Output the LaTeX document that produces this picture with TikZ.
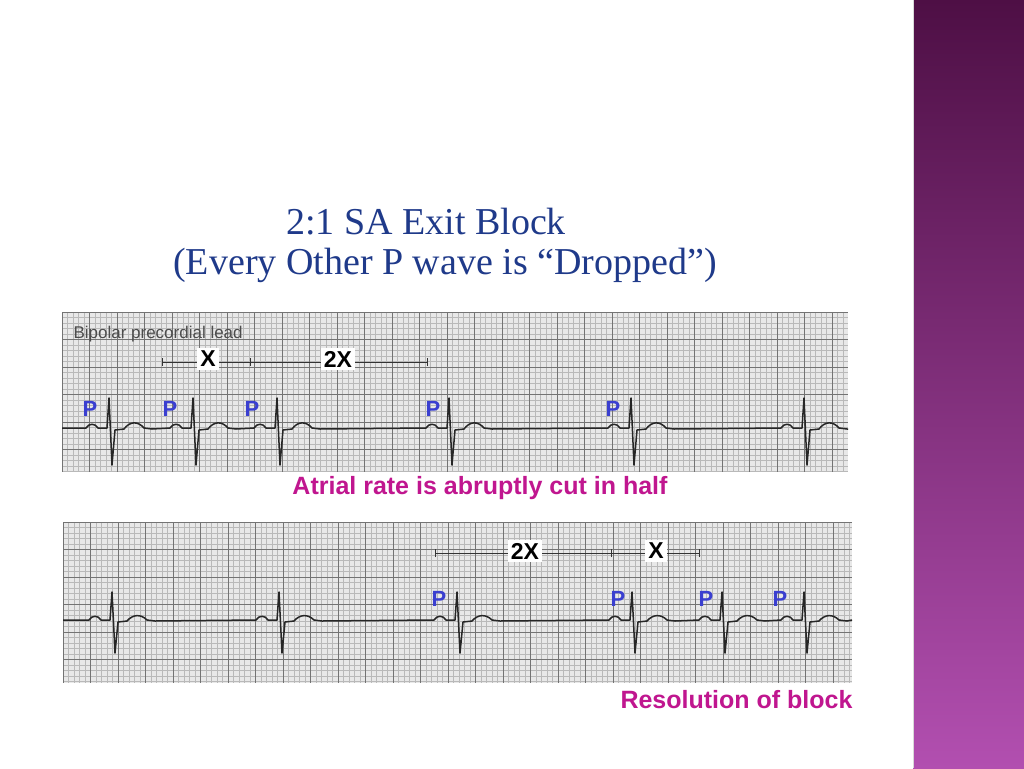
\documentclass[tikz,border=0pt]{standalone}
\usepackage{fontspec}
\setmainfont{Liberation Serif}
\setsansfont{Liberation Sans}
\definecolor{ttl}{HTML}{1F3A8A}
\definecolor{mag}{HTML}{C0168F}
\definecolor{pblue}{HTML}{3A3FD0}
\definecolor{barTop}{HTML}{4E0F45}
\definecolor{barBot}{HTML}{B24FB0}
\definecolor{paper}{HTML}{E8E8E8}
\tikzset{
  minor/.style={draw=gray!55,line width=0.5pt},
  major/.style={draw=black!55,line width=0.9pt},
  trace/.style={draw=black!85,line width=1.5pt,line join=round},
  lab/.style={font=\sffamily\bfseries\fontsize{23}{23}\selectfont,fill=white,inner sep=3pt},
  plab/.style={font=\sffamily\bfseries\fontsize{22}{22}\selectfont,text=pblue},
  brk/.style={draw=black!80,line width=1pt},
  note/.style={font=\sffamily\bfseries\fontsize{25}{25}\selectfont,text=mag}
}
\begin{document}
\begin{tikzpicture}[x=1pt,y=-1pt]
\useasboundingbox (0,0) rectangle (1024,768);
\fill[white] (0,0) rectangle (1024,768);
\shade[top color=barTop,bottom color=barBot] (913,0) rectangle (1024,768);
\draw[gray!30] (913,0) -- (913,768);
% titles
\node[font=\fontsize{38}{38}\selectfont,text=ttl] (t1) at (426,222) {2:1 SA Exit Block};
\node[font=\fontsize{38}{38}\selectfont,text=ttl] (t2) at (445,265) {(Every Other P wave is “Dropped”)};
% strip 1 grid
\fill[paper] (62,312) rectangle (848,472);
\foreach \i in {0,...,142} \draw[minor] (62+\i*5.5,312) -- (62+\i*5.5,472);
\foreach \j in {0,...,29} \draw[minor] (62,312+\j*5.5) -- (848,312+\j*5.5);
\foreach \i in {0,...,28} \draw[major] (62+\i*27.5,312) -- (62+\i*27.5,472);
\foreach \j in {0,...,5} \draw[major] (62,312+\j*27.5) -- (848,312+\j*27.5);
% strip 2 grid
\fill[paper] (63,522) rectangle (852,683);
\foreach \i in {0,...,143} \draw[minor] (63+\i*5.5,522) -- (63+\i*5.5,683);
\foreach \j in {0,...,29} \draw[minor] (63,522+\j*5.5) -- (852,522+\j*5.5);
\foreach \i in {0,...,28} \draw[major] (63+\i*27.5,522) -- (63+\i*27.5,683);
\foreach \j in {0,...,5} \draw[major] (63,522+\j*27.5) -- (852,522+\j*27.5);
% traces
\draw[trace] (62,428) foreach \r in {110,194,278,450,632,805} {
  -- (\r-24,428) .. controls (\r-21,423) and (\r-15,423) .. (\r-12,428) -- (\r-3,428)
  -- (\r-1,398) -- (\r+2,465) -- (\r+5,430) -- (\r+14,429)
  .. controls (\r+20,421) and (\r+28,421) .. (\r+34,428) -- (\r+42,429) } -- (848,429);
\draw[trace] (63,620) foreach \r in {113,280,458,633,723,805} {
  -- (\r-24,620) .. controls (\r-21,615) and (\r-15,615) .. (\r-12,620) -- (\r-3,620)
  -- (\r-1,592) -- (\r+2,653) -- (\r+5,622) -- (\r+14,621)
  .. controls (\r+20,614) and (\r+28,614) .. (\r+34,620) -- (\r+42,621) } -- (852,620);
% labels strip 1
\node[font=\sffamily\fontsize{17}{17}\selectfont,text=black!70,anchor=west] (lead) at (70,334) {Bipolar precordial lead};
\coordinate (a1) at (162,362); \coordinate (a2) at (250,362); \coordinate (a3) at (427,362);
\draw[brk] (a1) -- (a3);
\foreach \c in {a1,a2,a3} \draw[brk] ([yshift=-4pt]\c) -- ([yshift=4pt]\c);
\node[lab] (x1) at (208,359) {X};
\node[lab] (x2) at (338,359) {2X};
\foreach \px in {90,170,252,433,613} \node[plab] at (\px,409) {P};
\node[note] (n1) at (480,488) {Atrial rate is abruptly cut in half};
% labels strip 2
\coordinate (b1) at (435,553); \coordinate (b2) at (611,553); \coordinate (b3) at (699,553);
\draw[brk] (b1) -- (b3);
\foreach \c in {b1,b2,b3} \draw[brk] ([yshift=-4pt]\c) -- ([yshift=4pt]\c);
\node[lab] (y2) at (525,551) {2X};
\node[lab] (y1) at (656,551) {X};
\foreach \px in {439,618,706,780} \node[plab] at (\px,599) {P};
\node[note,anchor=east] (n2) at (856,700) {Resolution of block};
\end{tikzpicture}
\end{document}
